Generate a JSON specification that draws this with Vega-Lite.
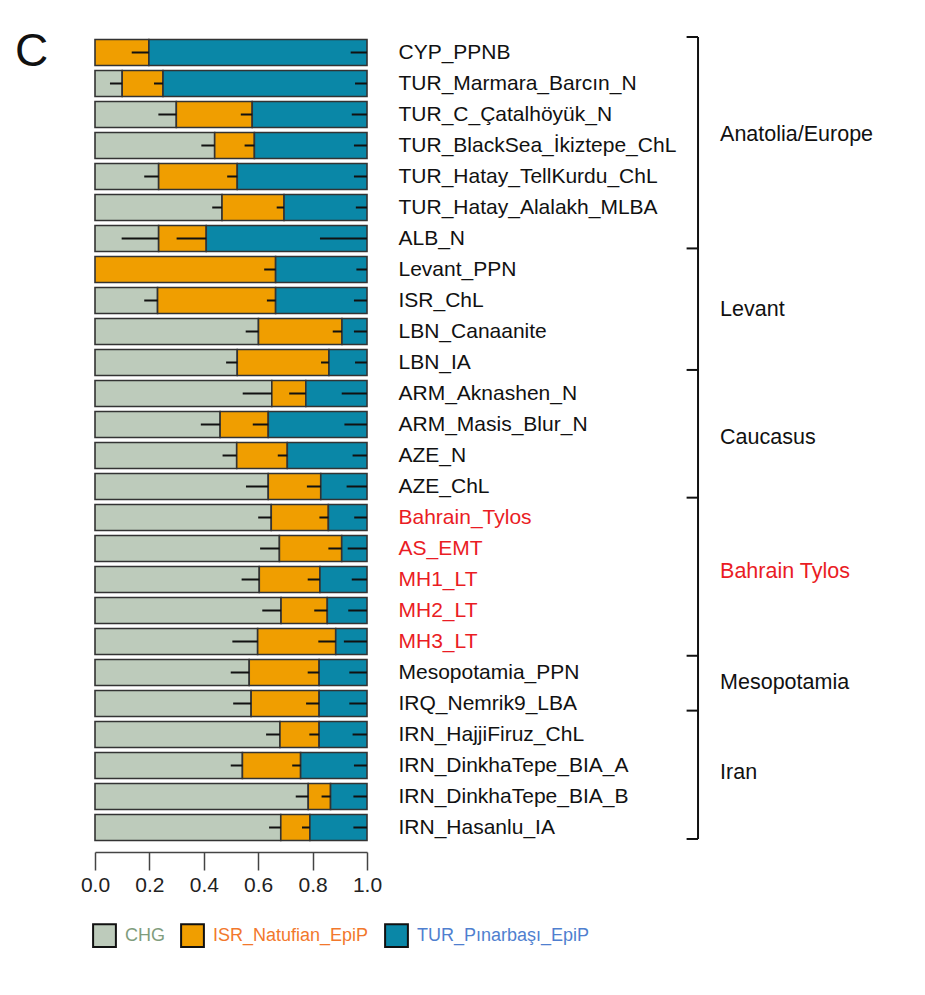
{
  "$schema": "https://vega.github.io/schema/vega-lite/v6.json",
  "autosize": "none",
  "padding": {"left": 95, "top": 37, "right": 558, "bottom": 152},
  "width": 272,
  "height": 806,
  "config": {"view": {"stroke": null}, "font": "Liberation Sans"},
  "title": {"text": "C", "anchor": "start", "frame": "group", "orient": "top", "fontSize": 46, "fontWeight": "normal", "font": "Liberation Sans", "color": "#111111", "dx": -80, "dy": 76, "offset": 0, "baseline": "alphabetic"},
  "datasets": {
    "rows": [
      {"row": 1, "pop": "CYP_PPNB", "comp": "ISR_Natufian_EpiP", "ord": 2, "value": 0.198, "lo": 0.135},
      {"row": 1, "pop": "CYP_PPNB", "comp": "TUR_Pınarbaşı_EpiP", "ord": 3, "value": 0.802, "lo": 0.940},
      {"row": 2, "pop": "TUR_Marmara_Barcın_N", "comp": "CHG", "ord": 1, "value": 0.100, "lo": 0.055},
      {"row": 2, "pop": "TUR_Marmara_Barcın_N", "comp": "ISR_Natufian_EpiP", "ord": 2, "value": 0.150, "lo": 0.217},
      {"row": 2, "pop": "TUR_Marmara_Barcın_N", "comp": "TUR_Pınarbaşı_EpiP", "ord": 3, "value": 0.750, "lo": 0.956},
      {"row": 3, "pop": "TUR_C_Çatalhöyük_N", "comp": "CHG", "ord": 1, "value": 0.299, "lo": 0.233},
      {"row": 3, "pop": "TUR_C_Çatalhöyük_N", "comp": "ISR_Natufian_EpiP", "ord": 2, "value": 0.279, "lo": 0.536},
      {"row": 3, "pop": "TUR_C_Çatalhöyük_N", "comp": "TUR_Pınarbaşı_EpiP", "ord": 3, "value": 0.422, "lo": 0.944},
      {"row": 4, "pop": "TUR_BlackSea_İkiztepe_ChL", "comp": "CHG", "ord": 1, "value": 0.440, "lo": 0.391},
      {"row": 4, "pop": "TUR_BlackSea_İkiztepe_ChL", "comp": "ISR_Natufian_EpiP", "ord": 2, "value": 0.146, "lo": 0.550},
      {"row": 4, "pop": "TUR_BlackSea_İkiztepe_ChL", "comp": "TUR_Pınarbaşı_EpiP", "ord": 3, "value": 0.414, "lo": 0.952},
      {"row": 5, "pop": "TUR_Hatay_TellKurdu_ChL", "comp": "CHG", "ord": 1, "value": 0.234, "lo": 0.181},
      {"row": 5, "pop": "TUR_Hatay_TellKurdu_ChL", "comp": "ISR_Natufian_EpiP", "ord": 2, "value": 0.289, "lo": 0.486},
      {"row": 5, "pop": "TUR_Hatay_TellKurdu_ChL", "comp": "TUR_Pınarbaşı_EpiP", "ord": 3, "value": 0.477, "lo": 0.952},
      {"row": 6, "pop": "TUR_Hatay_Alalakh_MLBA", "comp": "CHG", "ord": 1, "value": 0.467, "lo": 0.431},
      {"row": 6, "pop": "TUR_Hatay_Alalakh_MLBA", "comp": "ISR_Natufian_EpiP", "ord": 2, "value": 0.228, "lo": 0.668},
      {"row": 6, "pop": "TUR_Hatay_Alalakh_MLBA", "comp": "TUR_Pınarbaşı_EpiP", "ord": 3, "value": 0.305, "lo": 0.959},
      {"row": 7, "pop": "ALB_N", "comp": "CHG", "ord": 1, "value": 0.234, "lo": 0.098},
      {"row": 7, "pop": "ALB_N", "comp": "ISR_Natufian_EpiP", "ord": 2, "value": 0.175, "lo": 0.300},
      {"row": 7, "pop": "ALB_N", "comp": "TUR_Pınarbaşı_EpiP", "ord": 3, "value": 0.591, "lo": 0.827},
      {"row": 8, "pop": "Levant_PPN", "comp": "ISR_Natufian_EpiP", "ord": 2, "value": 0.664, "lo": 0.622},
      {"row": 8, "pop": "Levant_PPN", "comp": "TUR_Pınarbaşı_EpiP", "ord": 3, "value": 0.336, "lo": 0.961},
      {"row": 9, "pop": "ISR_ChL", "comp": "CHG", "ord": 1, "value": 0.230, "lo": 0.181},
      {"row": 9, "pop": "ISR_ChL", "comp": "ISR_Natufian_EpiP", "ord": 2, "value": 0.434, "lo": 0.632},
      {"row": 9, "pop": "ISR_ChL", "comp": "TUR_Pınarbaşı_EpiP", "ord": 3, "value": 0.336, "lo": 0.952},
      {"row": 10, "pop": "LBN_Canaanite", "comp": "CHG", "ord": 1, "value": 0.601, "lo": 0.554},
      {"row": 10, "pop": "LBN_Canaanite", "comp": "ISR_Natufian_EpiP", "ord": 2, "value": 0.307, "lo": 0.874},
      {"row": 10, "pop": "LBN_Canaanite", "comp": "TUR_Pınarbaşı_EpiP", "ord": 3, "value": 0.092, "lo": 0.952},
      {"row": 11, "pop": "LBN_IA", "comp": "CHG", "ord": 1, "value": 0.523, "lo": 0.482},
      {"row": 11, "pop": "LBN_IA", "comp": "ISR_Natufian_EpiP", "ord": 2, "value": 0.337, "lo": 0.831},
      {"row": 11, "pop": "LBN_IA", "comp": "TUR_Pınarbaşı_EpiP", "ord": 3, "value": 0.140, "lo": 0.956},
      {"row": 12, "pop": "ARM_Aknashen_N", "comp": "CHG", "ord": 1, "value": 0.650, "lo": 0.543},
      {"row": 12, "pop": "ARM_Aknashen_N", "comp": "ISR_Natufian_EpiP", "ord": 2, "value": 0.125, "lo": 0.714},
      {"row": 12, "pop": "ARM_Aknashen_N", "comp": "TUR_Pınarbaşı_EpiP", "ord": 3, "value": 0.225, "lo": 0.907},
      {"row": 13, "pop": "ARM_Masis_Blur_N", "comp": "CHG", "ord": 1, "value": 0.460, "lo": 0.389},
      {"row": 13, "pop": "ARM_Masis_Blur_N", "comp": "ISR_Natufian_EpiP", "ord": 2, "value": 0.177, "lo": 0.580},
      {"row": 13, "pop": "ARM_Masis_Blur_N", "comp": "TUR_Pınarbaşı_EpiP", "ord": 3, "value": 0.363, "lo": 0.917},
      {"row": 14, "pop": "AZE_N", "comp": "CHG", "ord": 1, "value": 0.521, "lo": 0.469},
      {"row": 14, "pop": "AZE_N", "comp": "ISR_Natufian_EpiP", "ord": 2, "value": 0.186, "lo": 0.672},
      {"row": 14, "pop": "AZE_N", "comp": "TUR_Pınarbaşı_EpiP", "ord": 3, "value": 0.293, "lo": 0.947},
      {"row": 15, "pop": "AZE_ChL", "comp": "CHG", "ord": 1, "value": 0.637, "lo": 0.555},
      {"row": 15, "pop": "AZE_ChL", "comp": "ISR_Natufian_EpiP", "ord": 2, "value": 0.193, "lo": 0.779},
      {"row": 15, "pop": "AZE_ChL", "comp": "TUR_Pınarbaşı_EpiP", "ord": 3, "value": 0.170, "lo": 0.925},
      {"row": 16, "pop": "Bahrain_Tylos", "comp": "CHG", "ord": 1, "value": 0.648, "lo": 0.600},
      {"row": 16, "pop": "Bahrain_Tylos", "comp": "ISR_Natufian_EpiP", "ord": 2, "value": 0.210, "lo": 0.825},
      {"row": 16, "pop": "Bahrain_Tylos", "comp": "TUR_Pınarbaşı_EpiP", "ord": 3, "value": 0.142, "lo": 0.953},
      {"row": 17, "pop": "AS_EMT", "comp": "CHG", "ord": 1, "value": 0.678, "lo": 0.607},
      {"row": 17, "pop": "AS_EMT", "comp": "ISR_Natufian_EpiP", "ord": 2, "value": 0.229, "lo": 0.858},
      {"row": 17, "pop": "AS_EMT", "comp": "TUR_Pınarbaşı_EpiP", "ord": 3, "value": 0.093, "lo": 0.929},
      {"row": 18, "pop": "MH1_LT", "comp": "CHG", "ord": 1, "value": 0.604, "lo": 0.539},
      {"row": 18, "pop": "MH1_LT", "comp": "ISR_Natufian_EpiP", "ord": 2, "value": 0.223, "lo": 0.782},
      {"row": 18, "pop": "MH1_LT", "comp": "TUR_Pınarbaşı_EpiP", "ord": 3, "value": 0.173, "lo": 0.944},
      {"row": 19, "pop": "MH2_LT", "comp": "CHG", "ord": 1, "value": 0.684, "lo": 0.615},
      {"row": 19, "pop": "MH2_LT", "comp": "ISR_Natufian_EpiP", "ord": 2, "value": 0.170, "lo": 0.806},
      {"row": 19, "pop": "MH2_LT", "comp": "TUR_Pınarbaşı_EpiP", "ord": 3, "value": 0.146, "lo": 0.931},
      {"row": 20, "pop": "MH3_LT", "comp": "CHG", "ord": 1, "value": 0.598, "lo": 0.505},
      {"row": 20, "pop": "MH3_LT", "comp": "ISR_Natufian_EpiP", "ord": 2, "value": 0.287, "lo": 0.821},
      {"row": 20, "pop": "MH3_LT", "comp": "TUR_Pınarbaşı_EpiP", "ord": 3, "value": 0.115, "lo": 0.915},
      {"row": 21, "pop": "Mesopotamia_PPN", "comp": "CHG", "ord": 1, "value": 0.567, "lo": 0.499},
      {"row": 21, "pop": "Mesopotamia_PPN", "comp": "ISR_Natufian_EpiP", "ord": 2, "value": 0.257, "lo": 0.782},
      {"row": 21, "pop": "Mesopotamia_PPN", "comp": "TUR_Pınarbaşı_EpiP", "ord": 3, "value": 0.176, "lo": 0.935},
      {"row": 22, "pop": "IRQ_Nemrik9_LBA", "comp": "CHG", "ord": 1, "value": 0.574, "lo": 0.508},
      {"row": 22, "pop": "IRQ_Nemrik9_LBA", "comp": "ISR_Natufian_EpiP", "ord": 2, "value": 0.250, "lo": 0.776},
      {"row": 22, "pop": "IRQ_Nemrik9_LBA", "comp": "TUR_Pınarbaşı_EpiP", "ord": 3, "value": 0.176, "lo": 0.935},
      {"row": 23, "pop": "IRN_HajjiFiruz_ChL", "comp": "CHG", "ord": 1, "value": 0.680, "lo": 0.629},
      {"row": 23, "pop": "IRN_HajjiFiruz_ChL", "comp": "ISR_Natufian_EpiP", "ord": 2, "value": 0.144, "lo": 0.788},
      {"row": 23, "pop": "IRN_HajjiFiruz_ChL", "comp": "TUR_Pınarbaşı_EpiP", "ord": 3, "value": 0.176, "lo": 0.947},
      {"row": 24, "pop": "IRN_DinkhaTepe_BIA_A", "comp": "CHG", "ord": 1, "value": 0.542, "lo": 0.499},
      {"row": 24, "pop": "IRN_DinkhaTepe_BIA_A", "comp": "ISR_Natufian_EpiP", "ord": 2, "value": 0.214, "lo": 0.725},
      {"row": 24, "pop": "IRN_DinkhaTepe_BIA_A", "comp": "TUR_Pınarbaşı_EpiP", "ord": 3, "value": 0.244, "lo": 0.952},
      {"row": 25, "pop": "IRN_DinkhaTepe_BIA_B", "comp": "CHG", "ord": 1, "value": 0.784, "lo": 0.738},
      {"row": 25, "pop": "IRN_DinkhaTepe_BIA_B", "comp": "ISR_Natufian_EpiP", "ord": 2, "value": 0.082, "lo": 0.833},
      {"row": 25, "pop": "IRN_DinkhaTepe_BIA_B", "comp": "TUR_Pınarbaşı_EpiP", "ord": 3, "value": 0.134, "lo": 0.950},
      {"row": 26, "pop": "IRN_Hasanlu_IA", "comp": "CHG", "ord": 1, "value": 0.683, "lo": 0.640},
      {"row": 26, "pop": "IRN_Hasanlu_IA", "comp": "ISR_Natufian_EpiP", "ord": 2, "value": 0.107, "lo": 0.761},
      {"row": 26, "pop": "IRN_Hasanlu_IA", "comp": "TUR_Pınarbaşı_EpiP", "ord": 3, "value": 0.210, "lo": 0.950}
    ],
    "bracket": [
      {"x": 2.217, "y": 0, "y2": 25.87}
    ],
    "ticks": [
      {"x": 2.175, "x2": 2.217, "y": 0},
      {"x": 2.175, "x2": 2.217, "y": 6.82},
      {"x": 2.175, "x2": 2.217, "y": 10.74},
      {"x": 2.175, "x2": 2.217, "y": 14.86},
      {"x": 2.175, "x2": 2.217, "y": 19.96},
      {"x": 2.175, "x2": 2.217, "y": 21.73},
      {"x": 2.175, "x2": 2.217, "y": 25.87}
    ],
    "regions": [
      {"label": "Anatolia/Europe", "x": 2.298, "y": 3.16},
      {"label": "Levant", "x": 2.298, "y": 8.8},
      {"label": "Caucasus", "x": 2.298, "y": 12.94},
      {"label": "Bahrain Tylos", "x": 2.298, "y": 17.25},
      {"label": "Mesopotamia", "x": 2.298, "y": 20.85},
      {"label": "Iran", "x": 2.298, "y": 23.73}
    ]
  },
  "layer": [
    {
      "data": {"name": "rows"},
      "transform": [
        {"stack": "value", "groupby": ["pop"], "sort": [{"field": "ord", "order": "ascending"}], "as": ["x0", "x1"]}
      ],
      "encoding": {
        "y": {
          "field": "pop", "type": "nominal",
          "sort": {"field": "row", "op": "min", "order": "ascending"},
          "scale": {"paddingInner": 0.16, "paddingOuter": 0.08},
          "axis": {
            "orient": "right", "title": null, "domain": false, "ticks": false, "tickSize": 0,
            "labelPadding": 31, "labelFontSize": 21, "labelFont": "Liberation Sans", "labelLimit": 400,
            "labelColor": {"condition": {"test": "indexof(['Bahrain_Tylos','AS_EMT','MH1_LT','MH2_LT','MH3_LT'], datum.value) >= 0", "value": "#ea1c24"}, "value": "#111111"}
          }
        }
      },
      "layer": [
        {
          "mark": {"type": "bar", "stroke": "#333333", "strokeWidth": 1.6},
          "encoding": {
            "x": {"field": "x0", "type": "quantitative", "scale": {"domain": [0, 1], "nice": false},
              "axis": {"title": null, "values": [0, 0.2, 0.4, 0.6, 0.8, 1.0], "format": ".1f", "grid": false, "offset": 9,
                "domainColor": "#444444", "domainWidth": 1.5, "tickColor": "#444444", "tickWidth": 1.5, "tickSize": 18,
                "labelFontSize": 21, "labelColor": "#222222", "labelPadding": 4, "labelFont": "Liberation Sans", "labelFlush": false}},
            "x2": {"field": "x1"},
            "color": {
              "field": "comp", "type": "nominal",
              "scale": {"domain": ["CHG", "ISR_Natufian_EpiP", "TUR_Pınarbaşı_EpiP"], "range": ["#bdcbbb", "#f09e00", "#0a87a7"]},
              "legend": {
                "title": null, "orient": "none", "direction": "horizontal", "legendX": -3, "legendY": 886,
                "symbolType": "square", "symbolSize": 520, "symbolStrokeColor": "#111111", "symbolStrokeWidth": 2,
                "labelFontSize": 18, "labelFont": "Liberation Sans", "labelOffset": 8, "columnPadding": 12, "labelLimit": 300,
                "encode": {"labels": {"update": {"fill": {"signal": "datum.value === 'CHG' ? '#7f9d7d' : datum.value === 'ISR_Natufian_EpiP' ? '#f2782c' : '#4f7fcf'"}}}}
              }
            }
          }
        },
        {
          "mark": {"type": "rule", "color": "#111111", "strokeWidth": 2},
          "encoding": {
            "x": {"field": "lo", "type": "quantitative"},
            "x2": {"field": "x1"}
          }
        }
      ]
    },
    {
      "layer": [
        {
          "data": {"name": "bracket"},
          "mark": {"type": "rule", "color": "#111111", "strokeWidth": 2},
          "encoding": {
            "x": {"field": "x", "type": "quantitative", "scale": {"domain": [0, 1], "nice": false, "zero": false}, "axis": null},
            "y": {"field": "y", "type": "quantitative", "scale": {"domain": [0, 26], "reverse": true, "nice": false, "zero": false}, "axis": null},
            "y2": {"field": "y2"}
          }
        },
        {
          "data": {"name": "ticks"},
          "mark": {"type": "rule", "color": "#111111", "strokeWidth": 2},
          "encoding": {
            "x": {"field": "x", "type": "quantitative"},
            "x2": {"field": "x2"},
            "y": {"field": "y", "type": "quantitative"}
          }
        },
        {
          "data": {"name": "regions"},
          "mark": {"type": "text", "align": "left", "baseline": "middle", "fontSize": 21.5, "font": "Liberation Sans"},
          "encoding": {
            "x": {"field": "x", "type": "quantitative"},
            "y": {"field": "y", "type": "quantitative"},
            "text": {"field": "label"},
            "color": {"condition": {"test": "datum.label === 'Bahrain Tylos'", "value": "#ea1c24"}, "value": "#111111"}
          }
        }
      ]
    }
  ],
  "resolve": {"scale": {"x": "independent", "y": "independent", "color": "independent"}}
}
